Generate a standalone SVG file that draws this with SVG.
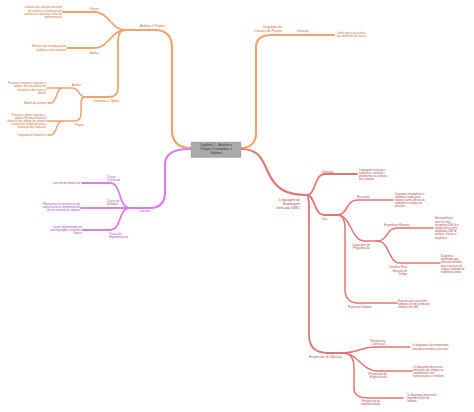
<svg xmlns="http://www.w3.org/2000/svg" width="474" height="412" viewBox="0 0 474 412">
<style>
text{font-family:"Liberation Sans",Arial,sans-serif;}
.c{fill:none;stroke-linecap:round;stroke-linejoin:round;}
.o{stroke:#f2a36b;}
.m{stroke:#dc7ee8;}
.r{stroke:#e27676;}
.w1{stroke-width:2.2;}
.w2{stroke-width:1.8;}
.w3{stroke-width:1.5;}
.to{fill:#c46c32;}
.tm{fill:#a04cb4;}
.tr{fill:#b04848;}
.l1{font-size:3.3px;}
.l2{font-size:2.8px;}
.lf{font-size:2.6px;}
.e{text-anchor:end;}
.mid{text-anchor:middle;}
</style>
<rect width="474" height="412" fill="#ffffff"/>
<g id="connectors">
<!-- orange -->
<path class="c o w1" d="M191,148 C179,148 172,142 172,130 L172,48 C172,36 166,30 155,30 L125,30"/>
<path class="c o w2" d="M125,30 C112,30 108,12 95,12 L63,12"/>
<path class="c o w2" d="M125,30 C112,30 108,48 95,48 L67,48"/>
<path class="c o w2" d="M125,30 C119,30 118,36 118,45 L118,88 C118,94 115,97 109,97 L85,97"/>
<path class="c o w3" d="M85,97 C78,97 80,88 72,88 L47,88"/>
<path class="c o w3" d="M62,88 C56,88 57,103 51,103 L48,103"/>
<path class="c o w3" d="M85,97 C82,97 81,100 81,104 L81,114 C81,119 79,121 74,121 L47,121"/>
<path class="c o w3" d="M62,121 C56,121 57,135 51,135 L48,135"/>
<path class="c o w1" d="M241,148 C250,148 256,143 256,133 L256,47 C256,38 262,35 272,35 L334,35"/>
<!-- magenta -->
<path class="c m w1" d="M191,149 C176,149 165,152 165,165 L165,192 C165,203 160,208 150,208 L130,208"/>
<path class="c m w2" d="M130,208 C118,208 122,183 110,183 L82,183"/>
<path class="c m w2" d="M130,208 L81,208"/>
<path class="c m w2" d="M130,208 C118,208 122,230 110,230 L83,230"/>
<!-- red -->
<path class="c r w1" d="M241,149 C258,149 262,158 268,172 C275,188 285,195 307,195"/>
<path class="c r w2" d="M307,195 C316,195 314,174 325,174 L357,174"/>
<path class="c r w2" d="M307,195 C315,195 314,215 324,215 L337,215"/>
<path class="c r w3" d="M337,215 C348,215 346,200 357,200 L393,200"/>
<path class="c r w3" d="M337,215 C352,215 350,241 365,241 L377,241"/>
<path class="c r w3" d="M377,241 C388,241 386,228 397,228 L433,228"/>
<path class="c r w3" d="M377,241 C390,241 388,263 400,263 L440,263"/>
<path class="c r w3" d="M337,215 C343,215 345,221 345,229 L345,290 C345,298 350,303 358,303 L397,303"/>
<path class="c r w2" d="M307,195 C308,195 309,200 309,210 L309,335 C309,347 316,353 328,353 L343,353"/>
<path class="c r w3" d="M343,353 C358,353 360,347 375,347 L410,347"/>
<path class="c r w3" d="M343,353 C358,353 362,371 377,371 L412,371"/>
<path class="c r w3" d="M343,353 C350,353 354,358 354,368 L354,388 C354,395 360,398 368,398 L403,398"/>
</g>
<g id="central">
<rect x="191" y="142" width="50" height="15.5" fill="#aaaaaa" stroke="#999999" stroke-width="0.4"/>
<text class="mid" x="216" y="146.3" font-size="3.4" fill="#333333"><tspan x="216">Capítulo 1 - Análise e</tspan><tspan x="216" dy="4">Projeto Orientados a</tspan><tspan x="216" dy="4">Objetos</tspan></text>
</g>
<g id="analise-e-projeto"><text class="to l1" x="140" y="27">Análise e Projeto</text></g>
<g id="projeto"><text class="to l2" x="90" y="9.5">Projeto</text></g>
<g id="projeto-def"><text class="to lf e" x="62" y="8.4"><tspan x="62">enfatiza uma solução conceitual</tspan><tspan x="62" dy="3.2">em software ou hardware que</tspan><tspan x="62" dy="3.2">satisfaça os requisitos e não sua</tspan><tspan x="62" dy="3.2">implementação</tspan></text></g>
<g id="analise"><text class="to l2" x="90" y="53.5">Análise</text></g>
<g id="analise-def"><text class="to lf e" x="66" y="47.3"><tspan x="66">Enfatiza uma investigação do</tspan><tspan x="66" dy="3.2">problema e dos requisitos</tspan></text></g>
<g id="orientados"><text class="to l2" x="93" y="101.5">Orientados a Objetos</text></g>
<g id="oo-analise"><text class="to l2" x="72" y="86">Análise</text></g>
<g id="oo-analise-def"><text class="to lf e" x="46" y="84.1"><tspan x="46">Procurar e encontrar conceitos e</tspan><tspan x="46" dy="3.2">objetos. Há uma ênfase em</tspan><tspan x="46" dy="3.2">encontrar e descrever os</tspan><tspan x="46" dy="3.2">objetos</tspan></text></g>
<g id="modelo-dominio"><text class="to lf e" x="46" y="104">Modelo de domínio</text></g>
<g id="oo-projeto"><text class="to l2" x="75" y="126">Projeto</text></g>
<g id="oo-projeto-def"><text class="to lf e" x="46" y="115.5"><tspan x="46">Procurar e propor conceitos e</tspan><tspan x="46" dy="3.2">objetos. Há uma ênfase na</tspan><tspan x="46" dy="3.2">definição dos objetos de software</tspan><tspan x="46" dy="3.2">e como eles colaboram para a</tspan><tspan x="46" dy="3.2">realização dos requisitos</tspan></text></g>
<g id="diagrama-sequencia"><text class="to lf e" x="46" y="136">Diagrama de Sequência</text></g>
<g id="diagrama-classes"><text class="to l1 e" x="282" y="28"><tspan x="282">Diagrama de</tspan><tspan x="282" dy="3.8">Classes de Projeto</tspan></text></g>
<g id="dcp-definicao"><text class="to l2" x="297" y="32">Definição</text></g>
<g id="dcp-definicao-texto"><text class="to lf" x="337" y="34"><tspan x="337">Ilustra uma vista estática</tspan><tspan x="337" dy="3.2">das definições de classes</tspan></text></g>
<g id="classes"><text class="tm l1" x="139" y="212">Classes</text></g>
<g id="classe-conceitual"><text class="tm l2" x="107" y="178"><tspan x="107">Classe</tspan><tspan x="107" dy="3.4">Conceitual</tspan></text></g>
<g id="classe-conceitual-def"><text class="tm lf e" x="80" y="184">Conceito do mundo real</text></g>
<g id="classe-software"><text class="tm l2" x="107" y="201.5"><tspan x="107">Classe de</tspan><tspan x="107" dy="3.4">Software</tspan></text></g>
<g id="classe-software-def"><text class="tm lf e" x="80" y="204.7"><tspan x="80">Representa uma perspectiva de</tspan><tspan x="80" dy="3.2">especificação ou implementação</tspan><tspan x="80" dy="3.2">de um elemento de software</tspan></text></g>
<g id="classe-implementacao"><text class="tm l2" x="109" y="234.5"><tspan x="109">Classe de</tspan><tspan x="109" dy="3.4">Implementação</tspan></text></g>
<g id="classe-implementacao-def"><text class="tm lf e" x="82" y="227.7"><tspan x="82">Classe implementada em</tspan><tspan x="82" dy="3.2">uma linguagem Orientada a</tspan><tspan x="82" dy="3.2">Objetos</tspan></text></g>
<g id="uml"><text class="tr l1 e" x="300" y="200.5"><tspan x="300">Linguagem de</tspan><tspan x="300" dy="4">Modelagem</tspan><tspan x="300" dy="4">Unificada (UML)</tspan></text></g>
<g id="uml-definicao"><text class="tr l2" x="322" y="172.5">Definição</text></g>
<g id="uml-definicao-def"><text class="tr lf" x="359" y="170.6"><tspan x="359">Linguagem visual para</tspan><tspan x="359" dy="3.2">especificar, construir e</tspan><tspan x="359" dy="3.2">documentar os artefatos</tspan><tspan x="359" dy="3.2">dos sistemas</tspan></text></g>
<g id="uso"><text class="tr l2" x="322" y="219.5">Uso</text></g>
<g id="rascunho"><text class="tr l2" x="357" y="198">Rascunho</text></g>
<g id="rascunho-def"><text class="tr lf" x="395" y="194.5"><tspan x="395">Diagramas incompletos e</tspan><tspan x="395" dy="3.2">informais criados para</tspan><tspan x="395" dy="3.2">explorar partes difíceis do</tspan><tspan x="395" dy="3.2">problema ou espaço de</tspan><tspan x="395" dy="3.2">soluções</tspan></text></g>
<g id="linguagem-programacao"><text class="tr l2 e" x="370" y="246"><tspan x="370">Linguagem de</tspan><tspan x="370" dy="3.4">Programação</tspan></text></g>
<g id="engenharia-reversa"><text class="tr l2" x="384" y="226">Engenharia Reversa</text></g>
<g id="engenharia-reversa-def"><text class="tr lf" x="435" y="219.3"><tspan x="435">Em engenharia</tspan><tspan x="435" dy="3.2">reversa, uma</tspan><tspan x="435" dy="3.2">ferramenta UML lê o</tspan><tspan x="435" dy="3.2">código fonte e gera</tspan><tspan x="435" dy="3.2">diagramas UML de</tspan><tspan x="435" dy="3.2">pacotes, classes e</tspan><tspan x="435" dy="3.2">sequência</tspan></text></g>
<g id="geracao-codigo"><text class="tr l2 e" x="407" y="268.3"><tspan x="407">Detalhes Para</tspan><tspan x="407" dy="3.2">Geração de</tspan><tspan x="407" dy="3.2">Código</tspan></text></g>
<g id="geracao-codigo-def"><text class="tr lf" x="441" y="256.9"><tspan x="441">Diagramas</tspan><tspan x="441" dy="3.2">detalhados que</tspan><tspan x="441" dy="3.2">oferecem detalhes</tspan><tspan x="441" dy="3.2">para a geração de</tspan><tspan x="441" dy="3.2">código, chamado de</tspan><tspan x="441" dy="3.2">engenharia direta</tspan></text></g>
<g id="planta-software"><text class="tr l2" x="348" y="308">Planta de Software</text></g>
<g id="planta-software-def"><text class="tr lf" x="398" y="301.7"><tspan x="398">Especificação executável</tspan><tspan x="398" dy="3.2">completa de um sistema de</tspan><tspan x="398" dy="3.2">software em UML</tspan></text></g>
<g id="perspectivas"><text class="tr l2" x="309" y="358">Perspectivas de Utilização</text></g>
<g id="perspectiva-conceitual"><text class="tr l2 e" x="385" y="342"><tspan x="385">Perspectiva</tspan><tspan x="385" dy="3.2">Conceitual</tspan></text></g>
<g id="perspectiva-conceitual-def"><text class="tr lf" x="412" y="346.3"><tspan x="412">Os diagramas são interpretados</tspan><tspan x="412" dy="3.2">como descrevendo coisas reais</tspan></text></g>
<g id="perspectiva-especificacao"><text class="tr l2 e" x="387" y="375"><tspan x="387">Perspectiva de</tspan><tspan x="387" dy="3.2">Especificação</tspan></text></g>
<g id="perspectiva-especificacao-def"><text class="tr lf" x="413" y="367.6"><tspan x="413">Os diagramas descrevem</tspan><tspan x="413" dy="3.2">abstrações de software ou</tspan><tspan x="413" dy="3.2">componentes com</tspan><tspan x="413" dy="3.2">especificações e interfaces</tspan></text></g>
<g id="perspectiva-implementacao"><text class="tr l2 e" x="380" y="402"><tspan x="380">Perspectiva de</tspan><tspan x="380" dy="3.2">Implementação</tspan></text></g>
<g id="perspectiva-implementacao-def"><text class="tr lf" x="407" y="395.7"><tspan x="407">Os diagramas descrevem</tspan><tspan x="407" dy="3.2">implementações de</tspan><tspan x="407" dy="3.2">software</tspan></text></g>
</svg>
